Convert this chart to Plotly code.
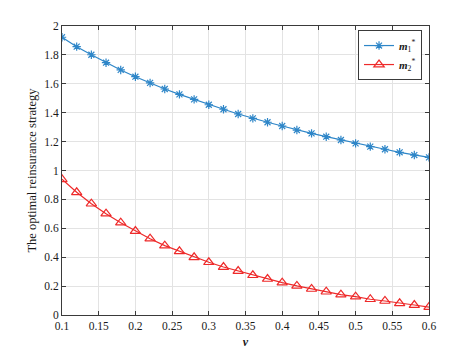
import plotly.graph_objects as go

v = [0.10, 0.12, 0.14, 0.16, 0.18, 0.20, 0.22, 0.24, 0.26, 0.28, 0.30, 0.32, 0.34,
     0.36, 0.38, 0.40, 0.42, 0.44, 0.46, 0.48, 0.50, 0.52, 0.54, 0.56, 0.58, 0.60]
m1 = [1.922, 1.857, 1.801, 1.746, 1.696, 1.649, 1.606, 1.564, 1.527, 1.492, 1.455, 1.424, 1.391,
      1.361, 1.334, 1.308, 1.280, 1.257, 1.234, 1.211, 1.188, 1.165, 1.147, 1.126, 1.107, 1.091]
m2 = [0.939, 0.849, 0.770, 0.701, 0.639, 0.581, 0.528, 0.480, 0.441, 0.399, 0.365, 0.332, 0.304,
      0.275, 0.249, 0.224, 0.201, 0.180, 0.161, 0.141, 0.127, 0.109, 0.097, 0.081, 0.069, 0.055]
xticks = [0.1, 0.15, 0.2, 0.25, 0.3, 0.35, 0.4, 0.45, 0.5, 0.55, 0.6]
yticks = [0, 0.2, 0.4, 0.6, 0.8, 1, 1.2, 1.4, 1.6, 1.8, 2]

blue = "#2E86C8"
red = "#EE2A2A"
font = "Liberation Serif"

fig = go.Figure()
fig.add_trace(go.Scatter(
    x=v, y=m1, mode="lines+markers", name="<i><b>m</b></i><sub>1</sub><sup>*</sup>",
    line=dict(color=blue, width=1.2),
    marker=dict(symbol="asterisk-open", size=7, color=blue, line=dict(color=blue, width=1.2)),
))
fig.add_trace(go.Scatter(
    x=v, y=m2, mode="lines+markers", name="<i><b>m</b></i><sub>2</sub><sup>*</sup>",
    line=dict(color=red, width=1.2),
    marker=dict(symbol="triangle-up-open", size=9, color=red, line=dict(color=red, width=1.2)),
))

axis_common = dict(
    showgrid=True, gridcolor="#E3E3E3", gridwidth=1,
    showline=True, linecolor="#3A3A3A", linewidth=1, mirror="ticks",
    ticks="inside", ticklen=4, tickcolor="#3A3A3A",
    zeroline=False, automargin=False,
    tickfont=dict(family=font, size=11.5, color="#1A1A1A"),
)

fig.update_layout(
    width=474, height=354,
    margin=dict(l=62, r=45, t=26, b=39),
    paper_bgcolor="white", plot_bgcolor="white",
    font=dict(family=font, size=11, color="#1A1A1A"),
    showlegend=True,
    legend=dict(
        x=0.981, y=0.986, xanchor="right", yanchor="top",
        bgcolor="white", bordercolor="#3A3A3A", borderwidth=1,
        font=dict(family=font, size=11),
        itemwidth=30, tracegroupgap=2,
    ),
    xaxis=dict(
        range=[0.1, 0.6], tickvals=xticks, ticktext=[f"{t:g}" for t in xticks],
        title=dict(text="<i><b>v</b></i>", font=dict(family=font, size=12), standoff=6),
        **axis_common,
    ),
    yaxis=dict(
        range=[0, 2], tickvals=yticks, ticktext=[f"{t:g}" for t in yticks],
        title=dict(text="The optimal reinsurance strategy", font=dict(family=font, size=12.5), standoff=4),
        **axis_common,
    ),
)

fig.write_html("out.html")
